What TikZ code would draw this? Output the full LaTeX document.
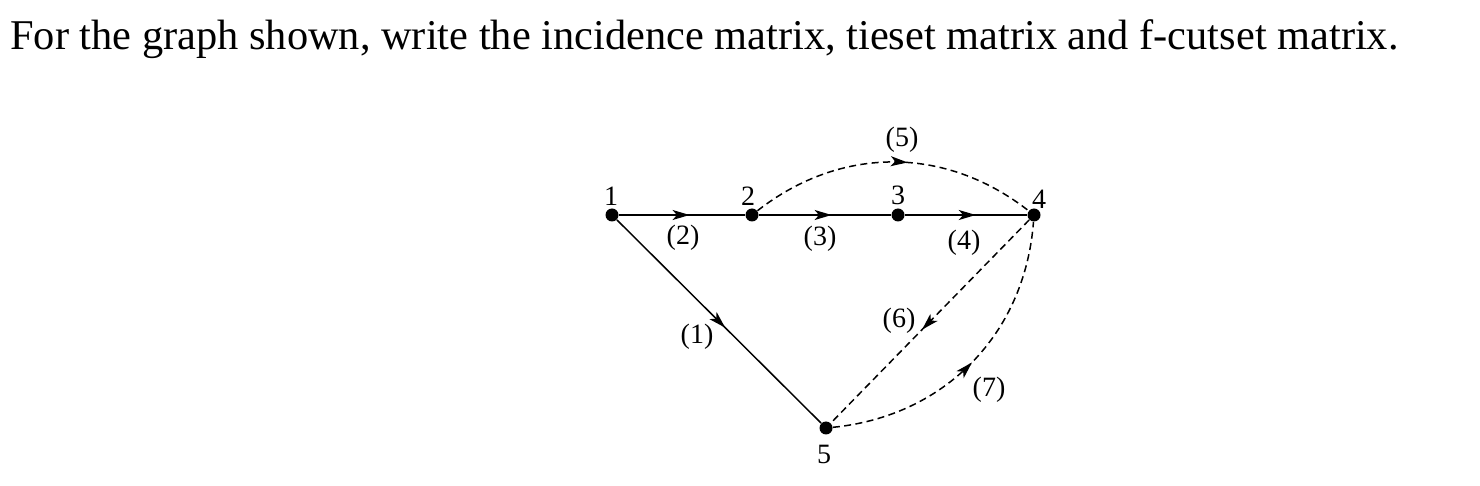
\documentclass[tikz,border=0pt]{standalone}
\usepackage{fontspec}
\setmainfont{Liberation Serif}
\usetikzlibrary{arrows.meta,decorations.markings}
\tikzset{
  vertex/.style={shape=circle,fill=black,inner sep=0pt,minimum size=6.5pt},
  branch/.style={line width=0.75pt},
  link/.style={line width=0.75pt,dash pattern=on 3.5pt off 2.2pt},
  midarrow/.style={postaction={decorate},decoration={markings,
    mark=at position #1 with {\arrow{Stealth[length=8.5pt,width=5pt,inset=2.2pt]}}}},
  num/.style={font=\fontsize{14}{16}\selectfont,inner sep=1pt}
}
\begin{document}
\begin{tikzpicture}[x=0.5pt,y=-0.5pt]
\useasboundingbox (0,0) rectangle (1480,486);

%question text
\node [anchor=base west,inner sep=0pt,font=\fontsize{21.2}{25}\selectfont] at (10,50) (question) {For the graph shown, write the incidence matrix, tieset matrix and f-cutset matrix.};

%draw the five nodes
\node [vertex] at (612,215) (n1) {};
\node [vertex] at (752,215) (n2) {};
\node [vertex] at (898,215) (n3) {};
\node [vertex] at (1034,215) (n4) {};
\node [vertex] at (826,428) (n5) {};

%node numbers
\node [num] at (611,196) (t1) {1};
\node [num] at (748,196) (t2) {2};
\node [num] at (898,195) (t3) {3};
\node [num] at (1039,199) (t4) {4};
\node [num] at (824,454) (t5) {5};

%tree branches
\draw [branch,midarrow=0.56] (n1) -- (n2);
\draw [branch,midarrow=0.55] (n2) -- (n3);
\draw [branch,midarrow=0.58] (n3) -- (n4);
\draw [branch,midarrow=0.53] (n1) -- (n5);

%links
\draw [link,midarrow=0.55] (n2) to[bend left=38] (n4);
\draw [link,midarrow=0.54] (n4) -- (n5);
\draw [link,midarrow=0.5] (n5) to[bend right=40] (n4);

%branch labels
\node [num] at (697,337) (b1) {(1)};
\node [num] at (683,238) (b2) {(2)};
\node [num] at (820,239) (b3) {(3)};
\node [num] at (964,243) (b4) {(4)};
\node [num] at (902,140) (b5) {(5)};
\node [num] at (899,321) (b6) {(6)};
\node [num] at (989,390) (b7) {(7)};
\end{tikzpicture}
\end{document}
